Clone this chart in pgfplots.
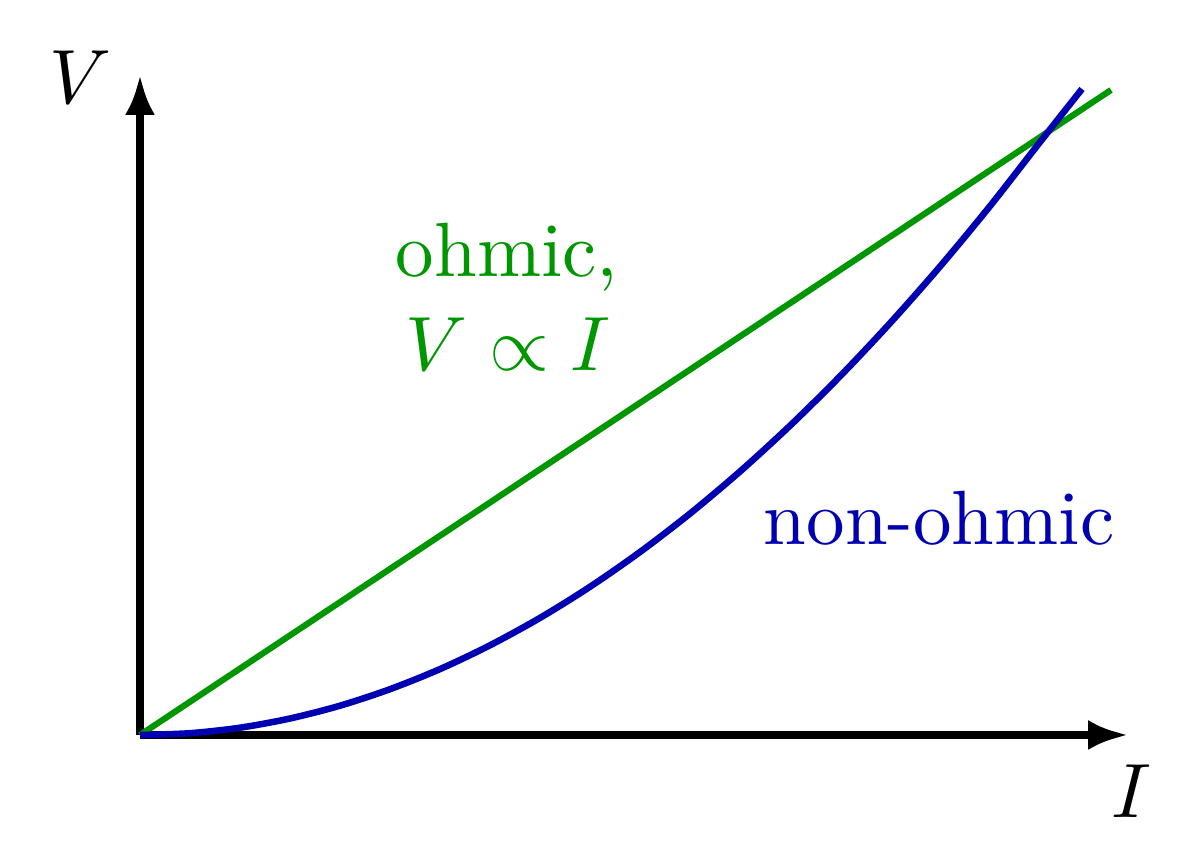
\documentclass[border=0pt]{standalone}
\usepackage{pgfplots}
\pgfplotsset{compat=1.18}
\usetikzlibrary{arrows.meta}
\definecolor{ohmgreen}{RGB}{0,150,0}
\definecolor{nonblue}{RGB}{0,0,178}
\begin{document}
\begin{tikzpicture}
\begin{axis}[
  x=13pt, y=13pt,
  xmin=0, xmax=9.88, ymin=0, ymax=6.6,
  enlargelimits=false,
  axis lines=left,
  axis line style={line width=1pt, -{Latex[length=5.2pt,width=3.9pt]}},
  xtick=\empty, ytick=\empty,
  clip=false,
]
\addplot[ohmgreen, line width=0.8pt] coordinates {(0,0) (9.71,6.45)};
\addplot[nonblue, line width=0.85pt, smooth] coordinates {
(0,0) (0.5,0.018) (1,0.073) (1.5,0.165) (2,0.293) (2.5,0.458) (3,0.659)
(3.5,0.897) (4,1.171) (4.5,1.482) (5,1.83) (5.5,2.214) (6,2.635)
(6.5,3.093) (7,3.587) (7.5,4.118) (8,4.685) (8.5,5.289) (9,5.929) (9.42,6.46)};
\node at (axis cs:-0.6,6.58) {$V$};
\node at (axis cs:9.91,-0.56) {$I$};
\node[anchor=base, text=ohmgreen] at (axis cs:3.67,4.58) {ohmic,};
\node[anchor=base, text=ohmgreen] at (axis cs:3.68,3.64) {$V\propto I$};
\node[anchor=base, text=nonblue] at (axis cs:7.99,1.90) {non-ohmic};
\coordinate (BBa) at (axis cs:-1.4,-1.32);
\coordinate (BBb) at (axis cs:10.6,7.35);
\end{axis}
\pgfresetboundingbox
\path[use as bounding box] (BBa) rectangle (BBb);
\end{tikzpicture}
\end{document}
